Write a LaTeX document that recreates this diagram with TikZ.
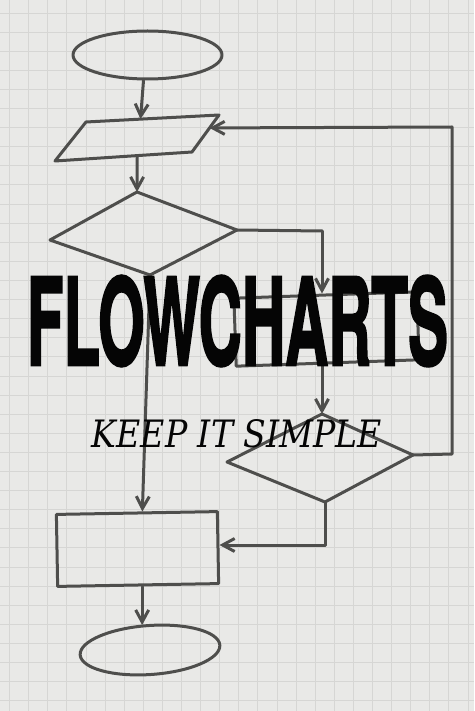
\documentclass[tikz,border=0pt]{standalone}
\usepackage{fontspec}
\usetikzlibrary{arrows.meta,calc,shapes.geometric}
\newfontfamily\titlefont{TeX Gyre Heros}[BoldFeatures={FakeBold=2.5}]
\newfontfamily\subfont{DejaVu Serif}
\definecolor{paper}{HTML}{E9E9E7}
\definecolor{gridc}{HTML}{D6D6D4}
\definecolor{pencil}{HTML}{4E4E4C}
\definecolor{ink}{HTML}{050505}
\begin{document}
\begin{tikzpicture}[x=1pt,y=-1pt,
  pen/.style={draw=pencil,line width=3pt,line join=round,line cap=round},
  arr/.style={pen,-{Straight Barb[length=12pt,width=13pt]}},
  box/.style={pen,rectangle,inner sep=0pt},
  oval/.style={pen,ellipse,inner sep=0pt}]
\fill[paper] (0,0) rectangle (474,711);
\useasboundingbox (0,0) rectangle (474,711);
\foreach \i in {0,...,24} \draw[gridc,line width=0.8pt] ({9.5+19.1*\i},0) -- ({9.5+19.1*\i},711);
\foreach \i in {0,...,36} \draw[gridc,line width=0.8pt] (0,{13+19.1*\i}) -- (474,{13+19.1*\i});

% shapes
\node[oval,minimum width=149pt,minimum height=48pt] (start) at (147.5,55) {};
\coordinate (pTL) at (86,122);
\coordinate (pTR) at (219,115);
\coordinate (pBR) at (192,152);
\coordinate (pBL) at (55,161);
\draw[pen] (pTL) -- (pTR) -- (pBR) -- (pBL) -- cycle;

\coordinate (d1T) at (137,192);
\coordinate (d1R) at (237,230);
\coordinate (d1B) at (150,275);
\coordinate (d1L) at (50,240);
\draw[pen] (d1T) -- (d1R) -- (d1B) -- (d1L) -- cycle;

\node[box,minimum width=183pt,minimum height=68pt,rotate=2] (proc2) at (326.5,329) {};

\coordinate (d2T) at (322,414);
\coordinate (d2R) at (413,455);
\coordinate (d2B) at (325,502);
\coordinate (d2L) at (227,462);
\draw[pen] (d2T) -- (d2R) -- (d2B) -- (d2L) -- cycle;

\node[box,minimum width=161pt,minimum height=72pt,rotate=1] (proc3) at (137.5,549) {};
\node[oval,minimum width=140pt,minimum height=49pt,rotate=4] (stop) at (150,650) {};

% connectors
\coordinate (pTop) at ($(pTL)!0.41!(pTR)$);
\coordinate (sOut) at ($(start.south)+(-4,0)$);
\draw[arr] (sOut) -- (pTop);
\coordinate (pBot) at ($(pBL)!0.6!(pBR)$);
\draw[arr] (pBot) -- (d1T);

\coordinate (j1) at (322,231);
\draw[pen] (d1R) -- (j1);
\draw[arr] (j1) -- (j1 |- proc2.north);

\coordinate (p2Out) at (proc2.south -| d2T);
\draw[arr] (p2Out) -- (d2T);

\coordinate (j3) at (452,454);
\coordinate (j4) at (452,127);
\coordinate (pR) at ($(pTR)!0.35!(pBR)$);
\draw[arr] (d2R) -- (j3) -- (j4) -- (pR);

\coordinate (j5) at (325,545);
\draw[arr] (d2B) -- (j5) -- (j5 -| proc3.east);

\coordinate (p3In) at ($(proc3.north)+(5.5,0)$);
\draw[arr] (d1B) -- (p3In);

\coordinate (p3Out) at ($(proc3.south)+(4,0)$);
\coordinate (sIn) at ($(p3Out |- stop.north)+(0,1)$);
\draw[arr] (p3Out) -- (sIn);

% texts
\node[inner sep=0pt,text=ink] (title) at (237.5,321)
  {\resizebox{421pt}{89pt}{\titlefont\bfseries FLOWCHARTS}};
\node[inner sep=0pt,text=ink] (sub) at (237,434)
  {\resizebox{290pt}{28pt}{\subfont\itshape KEEP IT SIMPLE}};
\end{tikzpicture}
\end{document}
